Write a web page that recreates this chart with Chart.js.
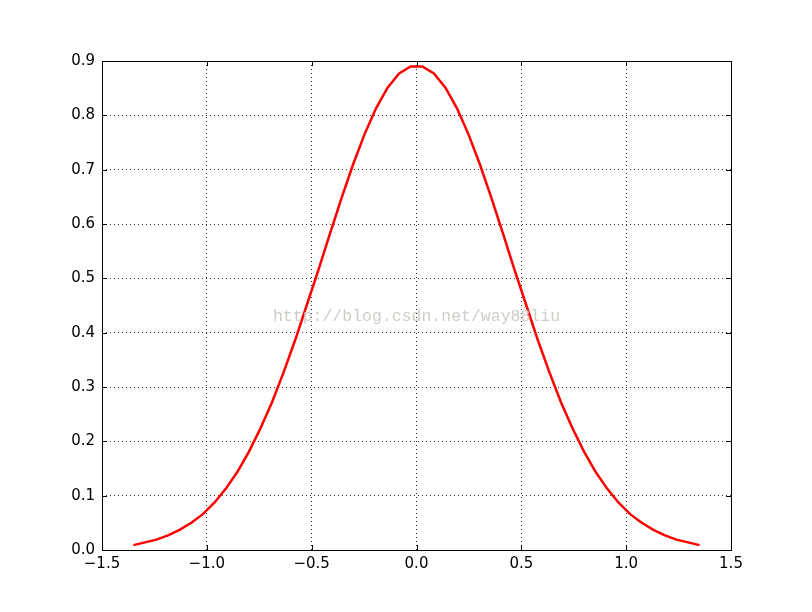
<!DOCTYPE html>
<html>
<head>
<meta charset="utf-8">
<script src="https://cdn.jsdelivr.net/npm/chart.js@4/dist/chart.umd.min.js"></script>
<style>
  html, body { margin: 0; padding: 0; background: #fff; }
  #box { width: 800px; height: 600px; }
</style>
</head>
<body>
<div id="box"><canvas id="curve" width="800" height="600"></canvas></div>
<script>
// sample positions along x (50 points between -1.35 and 1.35)
const xs = [-1.350, -1.295, -1.240, -1.185, -1.130, -1.074, -1.019, -0.964, -0.909, -0.854,
            -0.799, -0.744, -0.689, -0.634, -0.579, -0.524, -0.468, -0.413, -0.358, -0.303,
            -0.248, -0.193, -0.138, -0.083, -0.028, 0.028, 0.083, 0.138, 0.193, 0.248,
            0.303, 0.358, 0.413, 0.468, 0.524, 0.579, 0.634, 0.689, 0.744, 0.799,
            0.854, 0.909, 0.964, 1.019, 1.074, 1.130, 1.185, 1.240, 1.295, 1.350];
// curve heights
const ys = [0.009, 0.014, 0.019, 0.027, 0.037, 0.050, 0.066, 0.087, 0.113, 0.144,
            0.181, 0.224, 0.272, 0.327, 0.386, 0.450, 0.515, 0.582, 0.647, 0.709,
            0.765, 0.813, 0.851, 0.877, 0.890, 0.890, 0.877, 0.851, 0.813, 0.765,
            0.709, 0.647, 0.582, 0.515, 0.450, 0.386, 0.327, 0.272, 0.224, 0.181,
            0.144, 0.113, 0.087, 0.066, 0.050, 0.037, 0.027, 0.019, 0.014, 0.009];

const xTicks = [-1.5, -1.0, -0.5, 0.0, 0.5, 1.0, 1.5];
const xTickLabels = ['\u22121.5', '\u22121.0', '\u22120.5', '0.0', '0.5', '1.0', '1.5'];
const yTicks = [0.0, 0.1, 0.2, 0.3, 0.4, 0.5, 0.6, 0.7, 0.8, 0.9];
const yTickLabels = ['0.0', '0.1', '0.2', '0.3', '0.4', '0.5', '0.6', '0.7', '0.8', '0.9'];

const watermark = 'http://blog.csdn.net/way88liu';

// frame + inward tick marks on all four sides, matplotlib style
const framePlugin = {
    id: 'frame',
    afterDatasetsDraw(chart) {
        const { ctx, chartArea: a, scales } = chart;
        ctx.save();
        ctx.strokeStyle = '#000';
        ctx.lineWidth = 1;
        ctx.beginPath();
        xTicks.forEach(v => {
            const px = Math.round(scales.x.getPixelForValue(v)) + 0.5;
            ctx.moveTo(px, a.bottom); ctx.lineTo(px, a.bottom - 5);
            ctx.moveTo(px, a.top); ctx.lineTo(px, a.top + 5);
        });
        yTicks.forEach(v => {
            const py = Math.round(scales.y.getPixelForValue(v)) + 0.5;
            ctx.moveTo(a.left, py); ctx.lineTo(a.left + 5, py);
            ctx.moveTo(a.right, py); ctx.lineTo(a.right - 5, py);
        });
        ctx.stroke();
        ctx.strokeRect(Math.round(a.left) + 0.5, Math.round(a.top) + 0.5,
                       Math.round(a.right - a.left), Math.round(a.bottom - a.top));
        ctx.restore();
    },
    afterDraw(chart) {
        const { ctx, chartArea: a } = chart;
        ctx.save();
        ctx.fillStyle = 'rgba(200, 196, 188, 0.85)';
        ctx.font = '16.5px "Liberation Mono", "DejaVu Sans Mono", monospace';
        ctx.textAlign = 'center';
        ctx.textBaseline = 'middle';
        ctx.fillText(watermark, (a.left + a.right) / 2, 317);
        ctx.restore();
    }
};

const tickFont = { family: "'DejaVu Sans', sans-serif", size: 15 };

new Chart(document.getElementById('curve'), {
    type: 'line',
    data: {
        datasets: [{
            data: xs.map((x, i) => ({ x: x, y: ys[i] })),
            borderColor: '#ff0000',
            borderWidth: 2.5,
            pointRadius: 0,
            tension: 0,
            fill: false
        }]
    },
    options: {
        responsive: false,
        animation: false,
        layout: { padding: { left: 0, top: 61, right: 69, bottom: 0 } },
        plugins: { legend: { display: false }, tooltip: { enabled: false } },
        scales: {
            x: {
                type: 'linear',
                min: -1.5,
                max: 1.5,
                afterBuildTicks: s => { s.ticks = xTicks.map(v => ({ value: v })); },
                afterFit: s => { s.height = 50; },
                ticks: {
                    color: '#000',
                    font: tickFont,
                    padding: 5,
                    maxRotation: 0,
                    callback: v => xTickLabels[xTicks.indexOf(v)]
                },
                grid: { color: 'rgba(0,0,0,0.8)', lineWidth: 1, drawTicks: false },
                border: { display: false, dash: [1, 3] }
            },
            y: {
                min: 0,
                max: 0.9,
                afterBuildTicks: s => { s.ticks = yTicks.map(v => ({ value: v })); },
                afterFit: s => { s.width = 102; },
                ticks: {
                    color: '#000',
                    font: tickFont,
                    padding: 7,
                    callback: v => yTickLabels[yTicks.indexOf(v)]
                },
                grid: { color: 'rgba(0,0,0,0.8)', lineWidth: 1, drawTicks: false },
                border: { display: false, dash: [1, 3] }
            }
        }
    },
    plugins: [framePlugin]
});
</script>
</body>
</html>
